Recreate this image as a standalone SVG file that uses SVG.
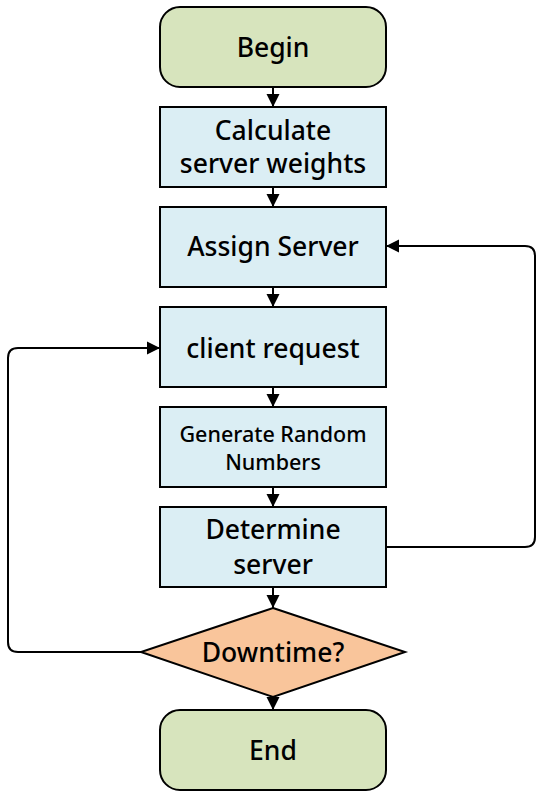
<svg xmlns="http://www.w3.org/2000/svg" width="550" height="798" viewBox="0 0 550 798">
<defs>
<style>
.term{fill:#d7e4bd;stroke:#000;stroke-width:2}
.proc{fill:#dbeef4;stroke:#000;stroke-width:2}
.dec{fill:#f9c59b;stroke:#000;stroke-width:2}
.t{font-family:"Noto Sans","DejaVu Sans",sans-serif;font-size:26.5px;font-weight:500;fill:#000;text-anchor:middle;dominant-baseline:central}
.s{font-size:21.5px}
.c{fill:none;stroke:#000;stroke-width:2}
</style>
<marker id="ah" viewBox="0 0 10 10" refX="10" refY="5" markerWidth="6.5" markerHeight="7" markerUnits="strokeWidth" orient="auto">
<path d="M0,0 L10,5 L0,10 Z" fill="#000"/>
</marker>
</defs>
<rect width="550" height="798" fill="#fff"/>
<g id="connectors">
<path class="c" d="M273,87 V107" marker-end="url(#ah)"/>
<path class="c" d="M273,187 V207" marker-end="url(#ah)"/>
<path class="c" d="M273,287 V307" marker-end="url(#ah)"/>
<path class="c" d="M273,387 V407" marker-end="url(#ah)"/>
<path class="c" d="M273,487 V507" marker-end="url(#ah)"/>
<path class="c" d="M273,587 V608" marker-end="url(#ah)"/>
<path class="c" d="M273,697 V710" marker-end="url(#ah)"/>
<path class="c" d="M386,547 H525 Q535,547 535,537 V256 Q535,246 525,246 H386" marker-end="url(#ah)"/>
<path class="c" d="M141,652 H18 Q8,652 8,642 V358 Q8,348 18,348 H160" marker-end="url(#ah)"/>
</g>
<g id="begin"><rect class="term" x="160" y="7" width="226" height="80" rx="20"/><text class="t" x="273" y="47">Begin</text></g>
<g id="calc"><rect class="proc" x="160" y="107" width="226" height="80"/><text class="t" x="273" y="130">Calculate</text><text class="t" x="273" y="163">server weights</text></g>
<g id="assign"><rect class="proc" x="160" y="207" width="226" height="80"/><text class="t" x="273" y="246">Assign Server</text></g>
<g id="client"><rect class="proc" x="160" y="307" width="226" height="80"/><text class="t" x="273" y="348">client request</text></g>
<g id="generate"><rect class="proc" x="160" y="407" width="226" height="80"/><text class="t s" x="273" y="433">Generate Random</text><text class="t s" x="273" y="461">Numbers</text></g>
<g id="determine"><rect class="proc" x="160" y="507" width="226" height="80"/><text class="t" x="273" y="529">Determine</text><text class="t" x="273" y="564">server</text></g>
<g id="downtime"><polygon class="dec" points="273,608 405,652 273,697 141,652"/><text class="t" x="273" y="652">Downtime?</text></g>
<g id="end"><rect class="term" x="160" y="710" width="226" height="80" rx="20"/><text class="t" x="273" y="750">End</text></g>
</svg>
